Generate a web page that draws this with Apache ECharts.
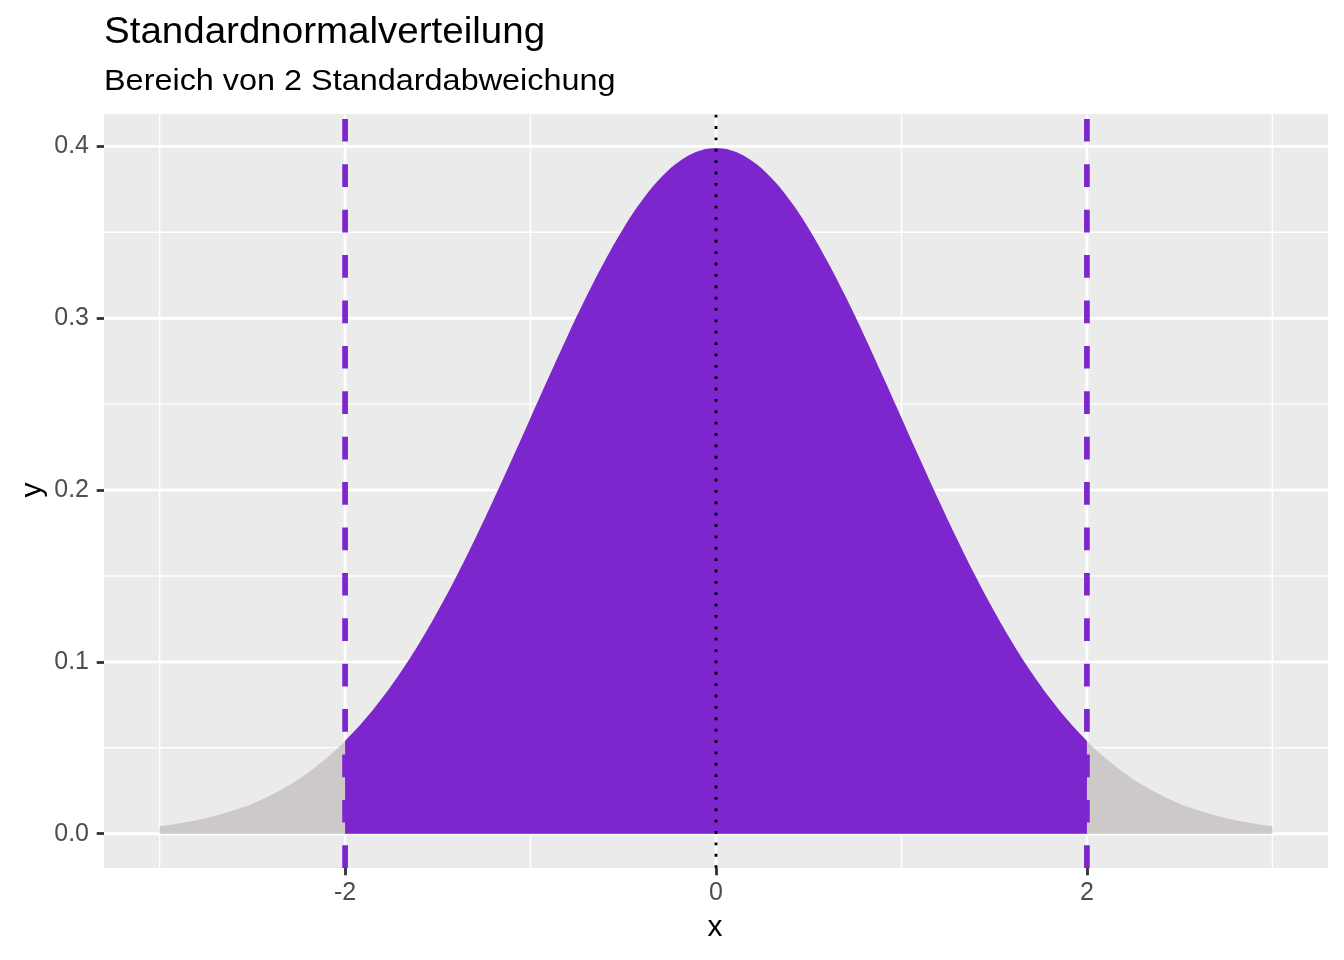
<!DOCTYPE html>
<html>
<head>
<meta charset="utf-8">
<script src="https://cdn.jsdelivr.net/npm/echarts@6/dist/echarts.min.js"></script>
<style>
html,body{margin:0;padding:0;background:#fff;}
#chart{width:1344px;height:960px;}
</style>
</head>
<body>
<div id="chart"></div>
<script>
// x positions of the density curve
var xValues = [-3.0,-2.9,-2.8,-2.7,-2.6,-2.5,-2.4,-2.3,-2.2,-2.1,
  -2.0,-1.9,-1.8,-1.7,-1.6,-1.5,-1.4,-1.3,-1.2,-1.1,
  -1.0,-0.9,-0.8,-0.7,-0.6,-0.5,-0.4,-0.3,-0.2,-0.1,
  0.0,0.1,0.2,0.3,0.4,0.5,0.6,0.7,0.8,0.9,
  1.0,1.1,1.2,1.3,1.4,1.5,1.6,1.7,1.8,1.9,
  2.0,2.1,2.2,2.3,2.4,2.5,2.6,2.7,2.8,2.9,3.0];
// density values
var yValues = [0.0044,0.0060,0.0079,0.0104,0.0136,0.0175,0.0224,0.0283,0.0355,0.0440,
  0.0540,0.0656,0.0790,0.0940,0.1109,0.1295,0.1497,0.1714,0.1942,0.2179,
  0.2420,0.2661,0.2897,0.3123,0.3332,0.3521,0.3683,0.3814,0.3910,0.3970,
  0.3989,0.3970,0.3910,0.3814,0.3683,0.3521,0.3332,0.3123,0.2897,0.2661,
  0.2420,0.2179,0.1942,0.1714,0.1497,0.1295,0.1109,0.0940,0.0790,0.0656,
  0.0540,0.0440,0.0355,0.0283,0.0224,0.0175,0.0136,0.0104,0.0079,0.0060,0.0044];
var rangeLow = -2;
var rangeHigh = 2;
var centerLine = 0;
var xMajorTicks = [-2, 0, 2];
var xMinorTicks = [-3, -1, 1, 3];
var yMajorTicks = [0, 0.1, 0.2, 0.3, 0.4];
var yMinorTicks = [0.05, 0.15, 0.25, 0.35];
var xLimits = [-3.3, 3.3];
var yLimits = [-0.01995, 0.41884];
var titleText = 'Standardnormalverteilung';
var subtitleText = 'Bereich von 2 Standardabweichung';

var fontFamily = '"Liberation Sans", Arial, Helvetica, sans-serif';
var allData = xValues.map(function (x, i) { return [x, yValues[i]]; });
var innerData = allData.filter(function (d) { return d[0] >= rangeLow - 1e-9 && d[0] <= rangeHigh + 1e-9; });

var series = [];
function vline(v, style, z) {
  series.push({ type: 'line', data: [[v, yLimits[0]], [v, yLimits[1]]], symbol: 'none', silent: true, z: z,
    lineStyle: style, animation: false });
}
function hline(v, style, z) {
  series.push({ type: 'line', data: [[xLimits[0], v], [xLimits[1], v]], symbol: 'none', silent: true, z: z,
    lineStyle: style, animation: false });
}
xMinorTicks.forEach(function (v) { vline(v, { color: '#FFFFFF', width: 1.42 }, 1); });
yMinorTicks.forEach(function (v) { hline(v, { color: '#FFFFFF', width: 1.42 }, 1); });
xMajorTicks.forEach(function (v) { vline(v, { color: '#FFFFFF', width: 2.84 }, 1); });
yMajorTicks.forEach(function (v) { hline(v, { color: '#FFFFFF', width: 2.84 }, 1); });

series.push({ type: 'line', data: allData, symbol: 'none', smooth: 0.4, silent: true, z: 2, animation: false,
  lineStyle: { width: 0, opacity: 0 }, areaStyle: { color: '#CDC9C9', opacity: 1, origin: 0 } });
series.push({ type: 'line', data: innerData, symbol: 'none', smooth: 0.4, silent: true, z: 3, animation: false,
  lineStyle: { width: 0, opacity: 0 }, areaStyle: { color: '#7D26CD', opacity: 1, origin: 0 } });

vline(rangeLow, { color: '#7D26CD', width: 5.7, type: [22.7, 22.7], cap: 'butt' }, 4);
vline(rangeHigh, { color: '#7D26CD', width: 5.7, type: [22.7, 22.7], cap: 'butt' }, 4);
vline(centerLine, { color: '#000000', width: 2.84, type: [2.84, 8.53], cap: 'butt' }, 4);

var chart = echarts.init(document.getElementById('chart'), null, { renderer: 'canvas' });
chart.setOption({
  animation: false,
  backgroundColor: '#FFFFFF',
  grid: { left: 104, right: 16, top: 114, bottom: 92, show: true, backgroundColor: '#EBEBEB', borderWidth: 0, containLabel: false },
  xAxis: {
    type: 'value', min: xLimits[0], max: xLimits[1],
    axisLine: { show: true, onZero: false, lineStyle: { color: 'rgba(0,0,0,0)', width: 0 } },
    splitLine: { show: false },
    axisTick: { show: true, length: 7.3, lineStyle: { color: '#333333', width: 2.84 }, customValues: xMajorTicks },
    axisLabel: { customValues: xMajorTicks, margin: 13, fontFamily: fontFamily, fontSize: 25, lineHeight: 25, color: '#4D4D4D',
      formatter: function (v) { return String(v); } }
  },
  yAxis: {
    type: 'value', min: yLimits[0], max: yLimits[1],
    axisLine: { show: true, onZero: false, lineStyle: { color: 'rgba(0,0,0,0)', width: 0 } },
    splitLine: { show: false },
    axisTick: { show: true, length: 7.3, lineStyle: { color: '#333333', width: 2.84 }, customValues: yMajorTicks },
    axisLabel: { customValues: yMajorTicks, margin: 15, fontFamily: fontFamily, fontSize: 25, lineHeight: 25, color: '#4D4D4D',
      formatter: function (v) { return v.toFixed(1); } }
  },
  graphic: [
    { type: 'text', x: 104, y: 33, scaleX: 1.07, style: { text: titleText, font: '36px ' + fontFamily, fill: '#000000', align: 'left', verticalAlign: 'middle' } },
    { type: 'text', x: 104, y: 82, scaleX: 1.08, style: { text: subtitleText, font: '30px ' + fontFamily, fill: '#000000', align: 'left', verticalAlign: 'middle' } },
    { type: 'text', x: 715, y: 928, style: { text: 'x', font: '30px ' + fontFamily, fill: '#000000', align: 'center', verticalAlign: 'middle' } },
    { type: 'text', x: 33, y: 490, rotation: Math.PI / 2, style: { text: 'y', font: '30px ' + fontFamily, fill: '#000000', align: 'center', verticalAlign: 'middle' } }
  ],
  series: series
});
</script>
</body>
</html>
